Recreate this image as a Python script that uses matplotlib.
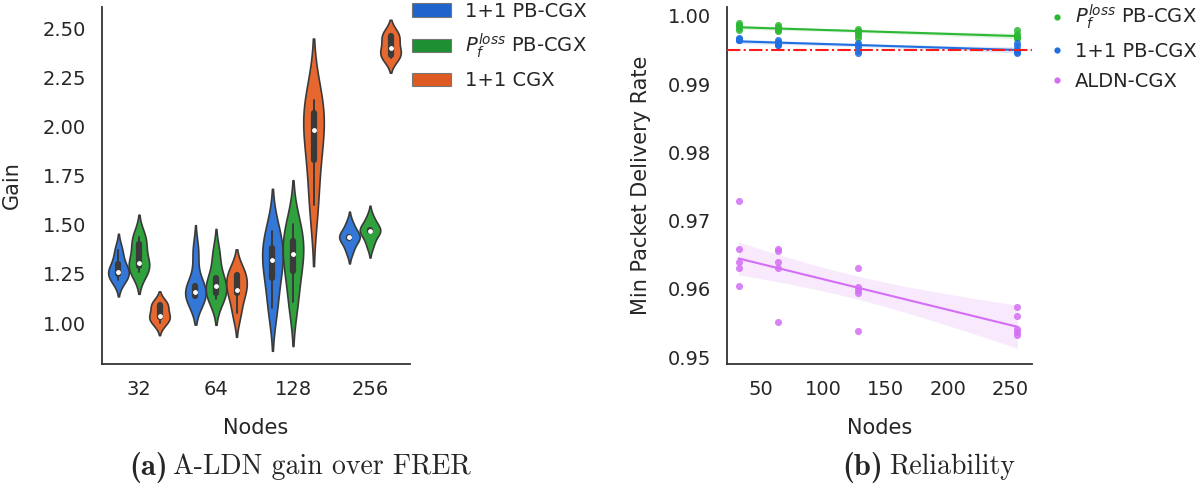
import matplotlib
matplotlib.use("Agg")

import matplotlib.pyplot as plt
from matplotlib.patches import Patch
from matplotlib.lines import Line2D
import numpy as np
import pandas as pd
import seaborn as sns

# ---- (a) gain over FRER, samples per node count ----
NODES = ["32", "64", "128", "256"]
METHODS = ["1+1 PB-CGX", r"$P_f^{loss}$ PB-CGX", "1+1 CGX"]
VIOLIN_COLORS = ["#3378d8", "#2fa23e", "#e6682f"]
LEGEND_COLORS = ["#1f64cc", "#1f8f33", "#dd5a22"]

gain_pb = {
    "32": [1.22, 1.25, 1.258, 1.30, 1.37],
    "64": [1.13, 1.14, 1.156, 1.19, 1.36],
    "128": [1.076, 1.23, 1.322, 1.38, 1.466],
    "256": [1.37, 1.435, 1.437, 1.44, 1.50],
}
gain_ploss = {
    "32": [1.26, 1.29, 1.308, 1.40, 1.44],
    "64": [1.12, 1.155, 1.19, 1.23, 1.35],
    "128": [1.105, 1.263, 1.352, 1.415, 1.505],
    "256": [1.40, 1.468, 1.47, 1.472, 1.53],
}
gain_cgx = {
    "32": [1.00, 1.03, 1.037, 1.09, 1.10],
    "64": [1.05, 1.155, 1.17, 1.245, 1.255],
    "128": [1.60, 1.83, 1.983, 2.07, 2.136],
    "256": [2.35, 2.365, 2.398, 2.46, 2.465],
}

# ---- (b) reliability ----
rel_nodes = [32, 64, 128, 256]
rel_ploss = [
    [0.9990, 0.9987, 0.9985, 0.9982, 0.9979],
    [0.9986, 0.9984, 0.9982, 0.9980, 0.9978],
    [0.9981, 0.9978, 0.9975, 0.9972, 0.9968],
    [0.9979, 0.9974, 0.9970, 0.9968, 0.9967],
]
rel_pb = [
    [0.9967, 0.9966, 0.9965, 0.9965, 0.9964],
    [0.9964, 0.9962, 0.9960, 0.9958, 0.9957],
    [0.9960, 0.9958, 0.9955, 0.9948, 0.9946],
    [0.9960, 0.9956, 0.9950, 0.9947, 0.9946],
]
rel_aldn = [
    [0.9729, 0.9659, 0.9640, 0.9631, 0.9604],
    [0.9659, 0.9656, 0.9639, 0.9630, 0.9551],
    [0.9630, 0.9603, 0.9598, 0.9594, 0.9539],
    [0.9573, 0.9560, 0.9541, 0.9537, 0.9533],
]
REL_LABELS = [r"$P_f^{loss}$ PB-CGX", "1+1 PB-CGX", "ALDN-CGX"]
REL_COLORS = ["#2cb834", "#1f6fe0", "#d36ef5"]
TARGET = 0.995

sns.set_style("white")
plt.rcParams["font.family"] = ["DejaVu Sans"]
plt.rcParams["text.color"] = "#262626"
plt.rcParams["axes.labelcolor"] = "#262626"
plt.rcParams["xtick.color"] = "#262626"
plt.rcParams["ytick.color"] = "#262626"

TICK_FS = 14
LABEL_FS = 15
LEGEND_FS = 14

fig = plt.figure(figsize=(12, 4.86), dpi=100)
ax1 = fig.add_axes([0.085, 0.251, 0.2567, 0.7346])
ax2 = fig.add_axes([0.6058, 0.251, 0.2542, 0.7346])

# ---- violins ----
rows = []
for method, table in zip(METHODS, [gain_pb, gain_ploss, gain_cgx]):
    for n in NODES:
        for v in table[n]:
            rows.append({"Nodes": n, "Gain": v, "method": method})
df = pd.DataFrame(rows)

sns.violinplot(data=df, x="Nodes", y="Gain", hue="method", order=NODES,
               hue_order=METHODS, palette=VIOLIN_COLORS, saturation=1,
               density_norm="width", inner="box", linecolor="#3a3a3a",
               linewidth=1.2, legend=False, ax=ax1,
               inner_kws=dict(box_width=4.5, whis_width=1.4, marker="o",
                              markersize=2.8, markeredgecolor="#3a3a3a",
                              markeredgewidth=0.6))
ax1.set_xlim(-0.48, 3.52)
ax1.set_ylim(0.792, 2.607)
ax1.set_yticks([1.00, 1.25, 1.50, 1.75, 2.00, 2.25, 2.50])
ax1.set_yticklabels([f"{t:.2f}" for t in ax1.get_yticks()])
ax1.set_xlabel("Nodes", fontsize=LABEL_FS, labelpad=14)
ax1.set_ylabel("Gain", fontsize=LABEL_FS, labelpad=15)
ax1.tick_params(labelsize=TICK_FS, length=0, pad=11.5)
handles = [Patch(facecolor=c, edgecolor="#777777", linewidth=0.8) for c in LEGEND_COLORS]
ax1.legend(handles, METHODS, loc="upper left", bbox_to_anchor=(0.961, 1.052),
           frameon=False, fontsize=LEGEND_FS, handlelength=2.0, handleheight=0.7,
           labelspacing=0.55, handletextpad=0.75, borderaxespad=0.3)

# ---- reliability scatter + linear fit with 95% band ----
T_975 = 2.10
for vals, col in zip([rel_ploss, rel_pb, rel_aldn], REL_COLORS):
    xs = np.repeat(rel_nodes, [len(v) for v in vals]).astype(float)
    ys = np.concatenate(vals)
    ax2.scatter(xs, ys, s=26, color=col, alpha=0.85, linewidths=0, zorder=3)
    slope, icpt = np.polyfit(xs, ys, 1)
    grid = np.linspace(xs.min(), xs.max(), 100)
    fit = icpt + slope * grid
    resid = ys - (icpt + slope * xs)
    s = np.sqrt((resid ** 2).sum() / (len(xs) - 2))
    sxx = ((xs - xs.mean()) ** 2).sum()
    se = s * np.sqrt(1 / len(xs) + (grid - xs.mean()) ** 2 / sxx)
    ax2.plot(grid, fit, color=col, linewidth=1.5, zorder=2)
    ax2.fill_between(grid, fit - T_975 * se, fit + T_975 * se,
                     color=col, alpha=0.15, linewidth=0)

ax2.axhline(TARGET, color="#ff1a1a", linestyle="-.", linewidth=1.5, zorder=4)
ax2.set_xlim(22.7, 267.7)
ax2.set_ylim(0.949, 1.0013)
ax2.set_xticks([50, 100, 150, 200, 250])
ax2.set_yticks([0.95, 0.96, 0.97, 0.98, 0.99, 1.00])
ax2.set_yticklabels([f"{t:.2f}" for t in ax2.get_yticks()])
ax2.set_xlabel("Nodes", fontsize=LABEL_FS, labelpad=14)
ax2.set_ylabel("Min Packet Delivery Rate", fontsize=LABEL_FS, labelpad=12)
ax2.tick_params(labelsize=TICK_FS, length=0, pad=11.5)
rel_handles = [Line2D([], [], marker="o", linestyle="", markersize=4.5,
                      color=c, markeredgewidth=0) for c in REL_COLORS]
ax2.legend(rel_handles, REL_LABELS, loc="upper left", bbox_to_anchor=(1.004, 1.05),
           frameon=False, fontsize=LEGEND_FS, handlelength=1.0, labelspacing=0.55,
           handletextpad=0.45, borderaxespad=0.3)

for ax in (ax1, ax2):
    sns.despine(ax=ax)
    for side in ("left", "bottom"):
        ax.spines[side].set_color("#333333")
        ax.spines[side].set_linewidth(1.3)

# ---- captions: bold tag + roman text ----
CAP_Y = 1 - 467 / 486
fig.text(168 / 1200, CAP_Y, "(a)", ha="right", va="center", fontsize=22,
         family="cmb10")
fig.text(173 / 1200, CAP_Y, "A-LDN gain over FRER", ha="left", va="center",
         fontsize=20, family="cmr10")
fig.text(883 / 1200, CAP_Y, "(b)", ha="right", va="center", fontsize=22,
         family="cmb10")
fig.text(889 / 1200, CAP_Y, "Reliability", ha="left", va="center",
         fontsize=20, family="cmr10")

fig.savefig("out.png", dpi=100)
